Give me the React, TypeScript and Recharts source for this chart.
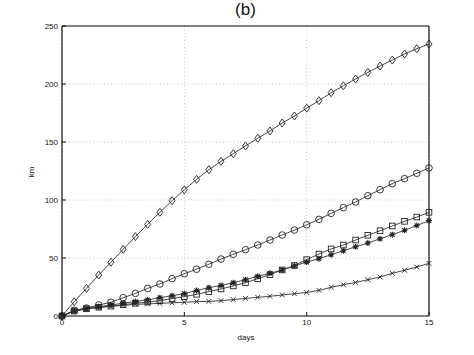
import React from "react";
import { LineChart, Line, XAxis, YAxis, CartesianGrid } from "recharts";

const days = [0, 0.5, 1, 1.5, 2, 2.5, 3, 3.5, 4, 4.5, 5, 5.5, 6, 6.5, 7, 7.5, 8, 8.5, 9, 9.5, 10, 10.5, 11, 11.5, 12, 12.5, 13, 13.5, 14, 14.5, 15];
const diamondSeries = [0, 12.3, 23.8, 35.3, 46.3, 57.5, 68.4, 79, 89.4, 99.4, 108.8, 117.8, 126.1, 133.3, 139.9, 146.6, 153.2, 159.5, 166.4, 172.4, 179.2, 185.6, 192.5, 198.5, 204.3, 210, 215.5, 220.7, 225.9, 230.4, 234.5];
const circleSeries = [0, 4.9, 6.9, 9.5, 11.8, 15.8, 19.5, 23.8, 27.6, 32.2, 36.5, 40.3, 44.6, 49.1, 53.2, 57.2, 61.2, 65.5, 69.8, 74.1, 78.6, 83.3, 88.5, 93.4, 98.3, 103.7, 108.9, 114.1, 118.4, 123, 127.6];
const squareSeries = [0, 4.3, 6.2, 7.5, 8.5, 9.7, 11, 12, 13.2, 15, 16.7, 18.7, 21, 23.3, 25.9, 28.7, 32.2, 35.6, 39.7, 43.5, 48.6, 53.4, 57.8, 61.2, 65.5, 69.6, 73.5, 77.6, 81.6, 85.3, 89.4];
const starSeries = [0, 4.5, 6.5, 8, 9.5, 11, 12.5, 14, 15.8, 17.5, 19.3, 22, 24.4, 26.4, 28.7, 31.3, 34.2, 36.8, 39.7, 43.2, 46.5, 49.4, 52.8, 56.3, 59.7, 62.9, 66.6, 70.1, 73.9, 78, 82.2];
const xSeries = [0, 4.3, 6, 7.3, 8.3, 9.2, 10, 10.5, 10.9, 11.4, 11.8, 12.4, 12.6, 13.2, 14.1, 15.2, 16.1, 17, 18.1, 19.2, 20.3, 22.1, 24.7, 27, 28.9, 31.3, 33.6, 36.8, 39.4, 42.2, 45.4];
const xTicks = [0, 5, 10, 15];
const yTicks = [0, 50, 100, 150, 200, 250];

const data = days.map((d, i) => ({
  d,
  diamond: diamondSeries[i],
  circle: circleSeries[i],
  square: squareSeries[i],
  star: starSeries[i],
  x: xSeries[i],
}));

const MS = "#222";

const DiamondDot = (p: any) => {
  const { cx, cy } = p;
  if (cx == null || cy == null) return <g />;
  return <path d={`M${cx},${cy - 4}L${cx + 3},${cy}L${cx},${cy + 4}L${cx - 3},${cy}Z`} fill="none" stroke={MS} strokeWidth={0.9} />;
};
const CircleDot = (p: any) => {
  const { cx, cy } = p;
  if (cx == null || cy == null) return <g />;
  return <circle cx={cx} cy={cy} r={3.3} fill="none" stroke={MS} strokeWidth={0.9} />;
};
const SquareDot = (p: any) => {
  const { cx, cy } = p;
  if (cx == null || cy == null) return <g />;
  return <rect x={cx - 2.8} y={cy - 2.8} width={5.6} height={5.6} fill="none" stroke={MS} strokeWidth={0.9} />;
};
const StarDot = (p: any) => {
  const { cx, cy } = p;
  if (cx == null || cy == null) return <g />;
  const r = 3;
  const q = 2.2;
  return (
    <path
      d={`M${cx - r},${cy}L${cx + r},${cy}M${cx},${cy - r}L${cx},${cy + r}M${cx - q},${cy - q}L${cx + q},${cy + q}M${cx - q},${cy + q}L${cx + q},${cy - q}`}
      stroke={MS}
      strokeWidth={1.1}
      fill="none"
    />
  );
};
const XDot = (p: any) => {
  const { cx, cy } = p;
  if (cx == null || cy == null) return <g />;
  const q = 2.4;
  return (
    <path
      d={`M${cx - q},${cy - q}L${cx + q},${cy + q}M${cx - q},${cy + q}L${cx + q},${cy - q}`}
      stroke={MS}
      strokeWidth={0.9}
      fill="none"
    />
  );
};

const FONT = "'Liberation Sans', Arial, Helvetica, sans-serif";
const tickStyle = { fontSize: 8, fill: "#111", fontFamily: FONT };

export default function App() {
  return (
    <div style={{ position: "absolute", left: 0, top: 0, width: 474, height: 355, background: "#fff", fontFamily: FONT }}>
      <LineChart width={474} height={355} data={data} margin={{ top: 25, right: 44, bottom: 9, left: 32 }}>
        <CartesianGrid stroke="#b5b5b5" strokeDasharray="1 2.5" strokeWidth={0.8} horizontalValues={yTicks} verticalValues={xTicks} />
        <XAxis
          dataKey="d"
          type="number"
          domain={[0, 15]}
          ticks={xTicks}
          interval={0}
          height={30}
          axisLine={{ stroke: "#111", strokeWidth: 1.2 }}
          tickLine={{ stroke: "#111" }}
          tickSize={-4}
          tickMargin={7}
          tick={tickStyle}
        />
        <XAxis
          xAxisId="top"
          orientation="top"
          dataKey="d"
          type="number"
          domain={[0, 15]}
          ticks={xTicks}
          interval={0}
          height={1}
          axisLine={{ stroke: "#111", strokeWidth: 1.2 }}
          tickLine={{ stroke: "#111" }}
          tickSize={-4}
          tick={false}
        />
        <YAxis
          type="number"
          domain={[0, 250]}
          ticks={yTicks}
          interval={0}
          width={30}
          axisLine={{ stroke: "#111", strokeWidth: 1.2 }}
          tickLine={{ stroke: "#111" }}
          tickSize={-4}
          tickMargin={8}
          tick={tickStyle}
        />
        <YAxis
          yAxisId="right"
          orientation="right"
          type="number"
          domain={[0, 250]}
          ticks={yTicks}
          interval={0}
          width={1}
          axisLine={{ stroke: "#111", strokeWidth: 1.2 }}
          tickLine={{ stroke: "#111" }}
          tickSize={-4}
          tick={false}
        />
        <Line type="linear" dataKey="diamond" stroke="#333" strokeWidth={0.9} dot={DiamondDot} isAnimationActive={false} />
        <Line type="linear" dataKey="circle" stroke="#333" strokeWidth={0.9} dot={CircleDot} isAnimationActive={false} />
        <Line type="linear" dataKey="square" stroke="#333" strokeWidth={0.9} dot={SquareDot} isAnimationActive={false} />
        <Line type="linear" dataKey="star" stroke="#333" strokeWidth={0.9} dot={StarDot} isAnimationActive={false} />
        <Line type="linear" dataKey="x" stroke="#333" strokeWidth={0.9} dot={XDot} isAnimationActive={false} />
      </LineChart>
      <div style={{ position: "absolute", left: 0, width: 491, top: 0, textAlign: "center", fontSize: 17, lineHeight: "20px", color: "#111" }}>(b)</div>
      <div style={{ position: "absolute", left: 226, width: 40, top: 333, textAlign: "center", fontSize: 8, lineHeight: "10px", color: "#111" }}>days</div>
      <div
        style={{
          position: "absolute",
          left: 12,
          top: 167,
          width: 40,
          textAlign: "center",
          fontSize: 8,
          lineHeight: "10px",
          color: "#111",
          transform: "rotate(-90deg)",
        }}
      >
        km
      </div>
    </div>
  );
}
